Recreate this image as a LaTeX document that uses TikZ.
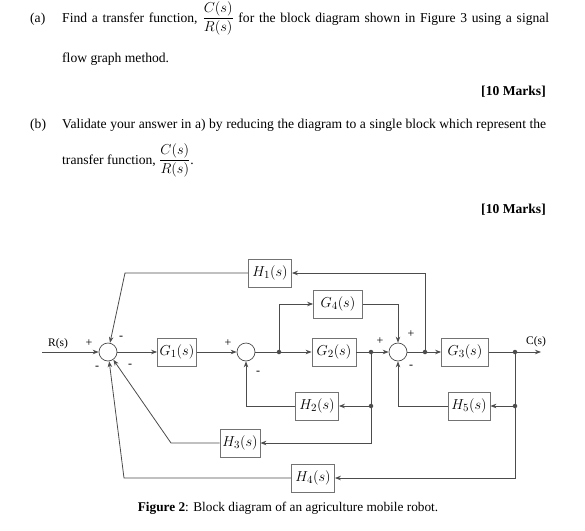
\documentclass[tikz,border=0pt]{standalone}
\usepackage{amsmath}
\usepackage{fontspec}
\setmainfont{Liberation Serif}
\usepackage{xcolor}
\usetikzlibrary{arrows.meta}

\newcommand{\csratio}{{\fontsize{15.5}{18}\selectfont$\dfrac{C(s)}{R(s)}$}}

\begin{document}
\begin{tikzpicture}[x=1pt, y=-1pt,
    txt/.style={anchor=base west, inner sep=0pt, font=\fontsize{13.6}{16}\selectfont},
    blk/.style={draw=black!55, line width=0.8pt, minimum height=28pt, inner sep=1pt, font=\fontsize{15}{17}\selectfont},
    sumj/.style={draw=black!70, line width=0.7pt, circle, minimum size=18pt, inner sep=0pt},
    dot/.style={circle, fill=black!70, inner sep=0pt, minimum size=4.5pt},
    wire/.style={draw=black!70, line width=0.8pt},
    sig/.style={wire, -{Stealth[length=6pt, width=4.5pt]}},
    sgn/.style={inner sep=0pt, font=\fontsize{12}{14}\selectfont}]
                \useasboundingbox (0,0) rectangle (585,530);

                % Question (a)
                \node[txt] (qa) at (30,22) {(a)};
                \node[txt] (qatxt) at (62,22) {\makebox[487pt][s]{Find a transfer function, \csratio\ for the block diagram shown in Figure 3 using a signal}};
                \node[txt] (qatxt2) at (62,62) {flow graph method.};
                \node[txt, anchor=base east] (marka) at (546,95) {\textbf{[10 Marks]}};

                % Question (b)
                \node[txt] (qb) at (30,128) {(b)};
                \node[txt] (qbtxt) at (62,128) {\makebox[484pt][s]{Validate your answer in a) by reducing the diagram to a single block which represent the}};
                \node[txt] (qbtxt2) at (62,164) {transfer function, \csratio.};
                \node[txt, anchor=base east] (markb) at (546,213) {\textbf{[10 Marks]}};

                % Forward path
                \coordinate (rin) at (42,352);
                \coordinate (cout) at (541,352);
                \node[sumj] (s1) at (108,352) {};
                \node[blk, minimum width=39pt] (g1) at (177,352) {$G_1(s)$};
                \node[sumj] (s2) at (246,352) {};
                \node[dot] (pa) at (279,352) {};
                \node[blk, minimum width=44pt] (g2) at (334,352) {$G_2(s)$};
                \node[dot] (pb) at (371,352) {};
                \node[sumj] (s3) at (398,352) {};
                \node[dot] (pc) at (425,352) {};
                \node[blk, minimum width=47pt] (g3) at (465,352) {$G_3(s)$};
                \node[dot] (pd) at (515,352) {};
                \node[blk, minimum width=49pt] (g4) at (338,304) {$G_4(s)$};

                % Feedback blocks
                \node[blk, minimum width=43pt] (h1) at (270,273) {$H_1(s)$};
                \node[blk, minimum width=43pt] (h2) at (317,406) {$H_2(s)$};
                \node[blk, minimum width=40pt] (h3) at (240,443) {$H_3(s)$};
                \node[blk, minimum width=43pt] (h4) at (313,478) {$H_4(s)$};
                \node[blk, minimum width=42pt] (h5) at (469,406) {$H_5(s)$};
                \node[dot] (pe) at (371,406) {};
                \node[dot] (pf) at (515,406) {};
                \coordinate (k1) at (125,273);
                \coordinate (k3) at (171,443);
                \coordinate (k4) at (124,478);

                % Connectors
                \draw[sig] (rin) -- (s1);
                \draw[sig] (s1) -- (g1);
                \draw[sig] (g1) -- (s2);
                \draw[wire] (s2) -- (pa);
                \draw[sig] (pa) -- (g2);
                \draw[wire] (g2) -- (pb);
                \draw[sig] (pb) -- (s3);
                \draw[wire] (s3) -- (pc);
                \draw[sig] (pc) -- (g3);
                \draw[wire] (g3) -- (pd);
                \draw[sig] (pd) -- (cout);
                \draw[sig] (pa) |- (g4);
                \draw[sig] (g4) -| (s3);
                \draw[sig] (pc) |- (h1);
                \draw[sig] (h1) -- (k1) -- (s1);
                \draw[wire] (pb) -- (pe);
                \draw[sig] (pe) -- (h2);
                \draw[sig] (h2) -| (s2);
                \draw[sig] (pe) |- (h3);
                \draw[sig] (h3) -- (k3) -- (s1);
                \draw[wire] (pd) -- (pf);
                \draw[sig] (pf) -- (h5);
                \draw[sig] (h5) -| (s3);
                \draw[sig] (pf) |- (h4);
                \draw[sig] (h4) -- (k4) -- (s1);

                % Signals and signs
                \node[font=\fontsize{11.5}{13}\selectfont] (rlbl) at (58,344) {R(s)};
                \node[font=\fontsize{11.5}{13}\selectfont] (clbl) at (536,342) {C(s)};
                \node[sgn] (n1) at (89,343) {+};
                \node[sgn] (n2) at (121,338) {-};
                \node[sgn] (n3) at (97,368) {-};
                \node[sgn] (n4) at (130,366) {-};
                \node[sgn] (n5) at (228,343) {+};
                \node[sgn] (n6) at (258,373) {-};
                \node[sgn] (n7) at (380,341) {+};
                \node[sgn] (n8) at (411,334) {+};
                \node[sgn] (n9) at (411,367) {-};

                % Caption
                \node[anchor=base, inner sep=0pt, font=\fontsize{13.3}{15}\selectfont] (cap) at (288,511) {\textbf{Figure 2}: Block diagram of an agriculture mobile robot.};
            \end{tikzpicture}
\end{document}
